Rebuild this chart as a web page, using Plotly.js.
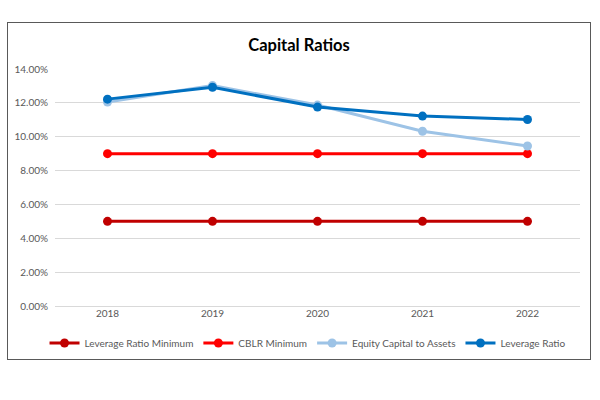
<!DOCTYPE html>
<html><head><meta charset="utf-8">
<script src="https://cdn.plot.ly/plotly-3.0.1.min.js"></script>
<style>
html,body{margin:0;padding:0;background:#fff;}
#box{position:absolute;left:7px;top:22px;width:582px;height:336px;border:1px solid #595959;overflow:hidden;}
#chart{width:582px;height:370px;}
</style></head>
<body>
<div id="box"><div id="chart"></div></div>
<script>
const years = ['2018','2019','2020','2021','2022'];
const leverageRatioMinimum = [0.05,0.05,0.05,0.05,0.05];
const cblrMinimum = [0.09,0.09,0.09,0.09,0.09];
const equityCapitalToAssets = [0.1205,0.1302,0.1187,0.1032,0.0945];
const leverageRatio = [0.1222,0.1292,0.1175,0.1122,0.1102];

function tr(name, y, color){
  return {x: years, y: y, name: name, type:'scatter', mode:'lines+markers',
    line:{color:color, width:3}, marker:{color:color, size:9}};
}
const data = [
  tr('Leverage Ratio Minimum', leverageRatioMinimum, '#C00000'),
  tr('CBLR Minimum', cblrMinimum, '#FF0000'),
  tr('Equity Capital to Assets', equityCapitalToAssets, '#9DC3E6'),
  tr('Leverage Ratio', leverageRatio, '#0070C0')
];
const layout = {
  width:582, height:370,
  margin:{l:47, r:10, t:46, b:87},
  paper_bgcolor:'#fff', plot_bgcolor:'#fff',
  font:{family:'Lato, "Open Sans", sans-serif', color:'#595959', size:10},
  title:{text:'<b>Capital Ratios</b>', x:0.5, xanchor:'center', y:1-22/370, yanchor:'middle',
    font:{size:16.5, color:'#000', family:'Lato, "Open Sans", sans-serif'}},
  xaxis:{type:'category', range:[-0.5,4.5], showgrid:false, zeroline:false, showline:false, ticks:'',
    tickfont:{size:10, color:'#595959'}},
  yaxis:{range:[0,0.14], dtick:0.02, tickformat:'.2%', showgrid:true, gridcolor:'#D9D9D9',
    zeroline:true, zerolinecolor:'#D9D9D9', showline:false, ticks:'', ticklabelstandoff:6,
    tickfont:{size:10, color:'#595959'}},
  showlegend:true,
  legend:{orientation:'h', x:0.481, xanchor:'center', y:-37/237, yanchor:'middle',
    font:{size:10, color:'#595959'}, traceorder:'normal', itemwidth:30}
};
Plotly.newPlot('chart', data, layout, {displayModeBar:false, staticPlot:true});
</script>
</body></html>
